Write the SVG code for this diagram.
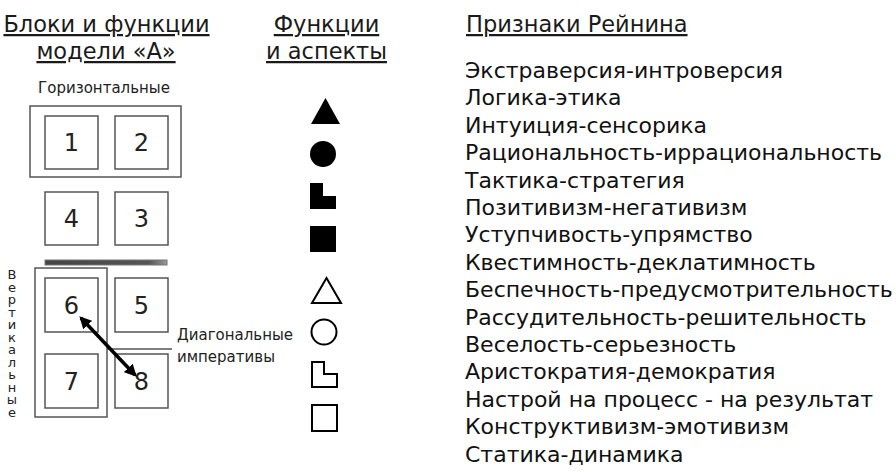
<svg xmlns="http://www.w3.org/2000/svg" width="896" height="472" viewBox="0 0 896 472">
<style>
.h{font-family:"DejaVu Sans",Verdana,sans-serif;font-size:22.5px;fill:#1a1a1a;text-decoration:underline}
.t{font-family:"DejaVu Sans",Verdana,sans-serif;font-size:22px;fill:#111}
.s{font-family:"DejaVu Sans",Verdana,sans-serif;font-size:15px;fill:#222}
.v{font-family:"DejaVu Sans",Verdana,sans-serif;font-size:13px;letter-spacing:-2.5px;fill:#222;writing-mode:vertical-rl;text-orientation:upright}
.d{font-family:"DejaVu Sans",Verdana,sans-serif;font-size:24px;fill:#222;text-anchor:middle}
.box{fill:#fff;stroke:#555;stroke-width:1.5}
.frame{fill:none;stroke:#555;stroke-width:1.5}
.fill{fill:#000}
.out{fill:#fff;stroke:#000;stroke-width:2}
</style>
<defs>
<marker id="ah" viewBox="0 0 10 10" refX="8" refY="5" markerWidth="3.5" markerHeight="3.5" orient="auto-start-reverse">
<path d="M0,0 L10,5 L0,10 Z" fill="#000"/>
</marker>
<linearGradient id="bar" x1="0" y1="0" x2="1" y2="0">
<stop offset="0" stop-color="#444"/><stop offset="0.85" stop-color="#555"/><stop offset="1" stop-color="#999"/>
</linearGradient>
</defs>
<rect width="896" height="472" fill="#fff"/>

<g id="headers">
<text class="h" x="106.5" y="32" text-anchor="middle">Блоки и функции</text>
<text class="h" x="106" y="59" text-anchor="middle">модели «А»</text>
<text class="h" x="326.5" y="32" text-anchor="middle">Функции</text>
<text class="h" x="326.5" y="59" text-anchor="middle">и аспекты</text>
<text class="h" x="466" y="32">Признаки Рейнина</text>
</g>

<g id="horizontal-group">
<text class="s" x="104" y="93" text-anchor="middle">Горизонтальные</text>
<rect class="frame" x="30" y="106" width="151" height="71"/>
</g>
<g id="block1"><rect class="box" x="45" y="116" width="53" height="53"/><text class="d" x="71.5" y="151">1</text></g>
<g id="block2"><rect class="box" x="115" y="116" width="53" height="53"/><text class="d" x="141.5" y="151">2</text></g>
<g id="block4"><rect class="box" x="45" y="192" width="53" height="53"/><text class="d" x="71.5" y="227">4</text></g>
<g id="block3"><rect class="box" x="115" y="192" width="53" height="53"/><text class="d" x="141.5" y="227">3</text></g>
<g id="divider"><rect x="45" y="260" width="122" height="5" fill="url(#bar)" stroke="#777" stroke-width="1"/></g>
<g id="vertical-group">
<rect class="frame" x="35" y="268" width="72" height="149"/>
<text class="v" x="12" y="267">Вертикальные</text>
</g>
<g id="block6"><rect class="box" x="45" y="278" width="53" height="54"/><text class="d" x="71.5" y="314">6</text></g>
<g id="block5"><rect class="box" x="115" y="278" width="53" height="54"/><text class="d" x="141.5" y="314">5</text></g>
<g id="block7"><rect class="box" x="45" y="354" width="53" height="54"/><text class="d" x="71.5" y="390">7</text></g>
<g id="block8"><rect class="box" x="115" y="354" width="53" height="54"/><text class="d" x="141.5" y="390">8</text></g>
<g id="diagonal-label">
<text class="s" x="177" y="340">Диагональные</text>
<text class="s" x="177" y="362">императивы</text>
</g>

<g id="connectors">
<line x1="107" y1="349" x2="172" y2="349" stroke="#555" stroke-width="1.5"/>
<line x1="81" y1="318" x2="135" y2="375" stroke="#000" stroke-width="3.5" marker-start="url(#ah)" marker-end="url(#ah)"/>
</g>

<g id="functions">
<polygon class="fill" points="311,124 340,124 325.5,98"/>
<circle class="fill" cx="323" cy="154" r="13"/>
<path class="fill" d="M310,183 H323 V196 H336 V209 H310 Z"/>
<rect class="fill" x="310" y="226" width="26" height="26"/>
<polygon class="out" points="312,303 341,303 326.5,278"/>
<circle class="out" cx="324" cy="332" r="12.5"/>
<path class="out" d="M312,362 H324 V374 H337 V387 H312 Z"/>
<rect class="out" x="312" y="405" width="25" height="26"/>
</g>

<g id="reinin">
<text class="t" x="465" y="78">Экстраверсия-интроверсия</text>
<text class="t" x="465" y="105.4">Логика-этика</text>
<text class="t" x="465" y="132.8">Интуиция-сенсорика</text>
<text class="t" x="465" y="160.2">Рациональность-иррациональность</text>
<text class="t" x="465" y="187.6">Тактика-стратегия</text>
<text class="t" x="465" y="215">Позитивизм-негативизм</text>
<text class="t" x="465" y="242.4">Уступчивость-упрямство</text>
<text class="t" x="465" y="269.8">Квестимность-деклатимность</text>
<text class="t" x="465" y="297.2">Беспечность-предусмотрительность</text>
<text class="t" x="465" y="324.6">Рассудительность-решительность</text>
<text class="t" x="465" y="352">Веселость-серьезность</text>
<text class="t" x="465" y="379.4">Аристократия-демократия</text>
<text class="t" x="465" y="406.8">Настрой на процесс - на результат</text>
<text class="t" x="465" y="434.2">Конструктивизм-эмотивизм</text>
<text class="t" x="465" y="461.6">Статика-динамика</text>
</g>
</svg>
